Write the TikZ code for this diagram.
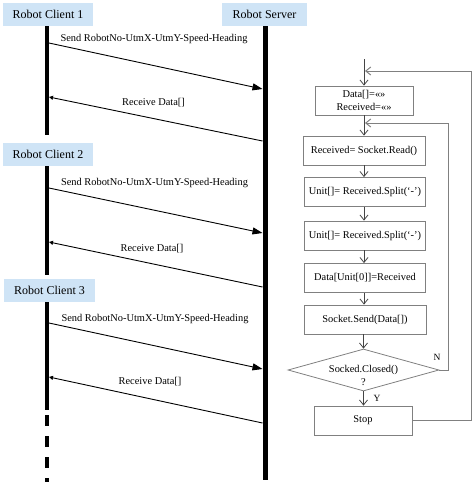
\documentclass[tikz,border=0pt]{standalone}
\usepackage{fontspec}
\setmainfont{Liberation Serif}
\usetikzlibrary{arrows.meta,shapes.geometric}
\definecolor{hdrblue}{HTML}{CFE4F6}
\definecolor{boxgray}{HTML}{808080}
\definecolor{linegray}{HTML}{444444}
\begin{document}
\begin{tikzpicture}[x=1pt,y=-1pt,
  hdr/.style={fill=hdrblue,draw=none,minimum height=23pt,inner sep=0pt,font=\fontsize{12}{14}\selectfont},
  msg/.style={font=\fontsize{10.4}{12}\selectfont,inner sep=0pt},
  life/.style={line width=4pt},
  sendarr/.style={line width=0.9pt,-{Triangle[length=10pt,width=7pt]}},
  recvarr/.style={line width=0.9pt,-{Triangle[length=4pt,width=4pt]}},
  fbox/.style={draw=boxgray,line width=0.8pt,minimum height=29pt,inner sep=0pt,align=center,font=\fontsize{10.4}{12.5}\selectfont},
  flow/.style={draw=linegray,line width=0.8pt,-{Straight Barb[length=5pt,width=8pt]}},
  loop/.style={draw=boxgray,line width=1pt,-{Straight Barb[length=5pt,width=8pt]}},
  lab/.style={font=\fontsize{9.5}{11}\selectfont,inner sep=0pt}
]
\useasboundingbox (0,0) rectangle (474,485);
% headers
\node[hdr,minimum width=90pt] (h1) at (48,14.5) {Robot Client 1};
\node[hdr,minimum width=85pt] (hs) at (264.5,14.5) {Robot Server};
\node[hdr,minimum width=90pt] (h2) at (48,154.5) {Robot Client 2};
\node[hdr,minimum width=91pt] (h3) at (49.5,290.5) {Robot Client 3};
% lifelines
\coordinate (c1t) at (47,26); \coordinate (c1b) at (47,135);
\coordinate (c2t) at (47,166); \coordinate (c2b) at (47,275);
\coordinate (c3t) at (47,302); \coordinate (c3b) at (47,410);
\coordinate (c3d) at (47,415); \coordinate (c3e) at (47,482);
\coordinate (st) at (265,26); \coordinate (sb) at (265,480);
\draw[life] (c1t) -- (c1b);
\draw[life] (c2t) -- (c2b);
\draw[life] (c3t) -- (c3b);
\draw[life,dash pattern=on 11pt off 10pt] (c3d) -- (c3e);
\draw[line width=5pt] (st) -- (sb);
% messages client 1
\coordinate (s1a) at (49,43); \coordinate (s1b) at (262.5,89);
\coordinate (r1a) at (262.5,141); \coordinate (r1b) at (49,97);
\draw[sendarr] (s1a) -- (s1b);
\draw[recvarr] (r1a) -- (r1b);
\node[msg] (m1) at (154,39) {Send RobotNo-UtmX-UtmY-Speed-Heading};
\node[msg] (n1) at (153.5,103) {Receive Data[]};
% client 2
\coordinate (s2a) at (49,188); \coordinate (s2b) at (262.5,233);
\coordinate (r2a) at (262.5,287); \coordinate (r2b) at (49,242);
\draw[sendarr] (s2a) -- (s2b);
\draw[recvarr] (r2a) -- (r2b);
\node[msg] (m2) at (154.5,183) {Send RobotNo-UtmX-UtmY-Speed-Heading};
\node[msg] (n2) at (152,249) {Receive Data[]};
% client 3
\coordinate (s3a) at (49,323); \coordinate (s3b) at (262.5,369);
\coordinate (r3a) at (262.5,423); \coordinate (r3b) at (49,377);
\draw[sendarr] (s3a) -- (s3b);
\draw[recvarr] (r3a) -- (r3b);
\node[msg] (m3) at (155,319) {Send RobotNo-UtmX-UtmY-Speed-Heading};
\node[msg] (n3) at (150,382) {Receive Data[]};
% flowchart
\node[fbox,minimum width=98pt] (b1) at (364,100.5) {Data[]=«»\\Received=«»};
\node[fbox,minimum width=122pt] (b2) at (364,150.5) {Received= Socket.Read()};
\node[fbox,minimum width=121pt] (b3) at (365,192) {Unit[]= Received.Split(‘-’)};
\node[fbox,minimum width=121pt] (b4) at (365,235.5) {Unit[]= Received.Split(‘-’)};
\node[fbox,minimum width=121pt] (b5) at (365,278) {Data[Unit[0]]=Received};
\node[fbox,minimum width=122pt] (b6) at (365,319.5) {Socket.Send(Data[])};
\node[diamond,draw=boxgray,line width=0.8pt,minimum width=151pt,minimum height=42pt,inner sep=0pt] (d) at (363.5,370) {};
\node[align=center,inner sep=0pt,font=\fontsize{10.4}{13}\selectfont] (dt) at (363.5,375) {Socked.Closed()\\?};
\node[fbox,minimum width=98pt] (stop) at (363,420.5) {Stop};
% flow arrows
\coordinate (entry) at (364,59);
\draw[flow] (entry) -- (b1.north);
\draw[flow] (b1.south) -- (b2.north -| b1.south);
\draw[flow] (b2.south) -- (b3.north -| b2.south);
\draw[flow] (b3.south -| b2.south) -- (b4.north -| b2.south);
\draw[flow] (b4.south -| b2.south) -- (b5.north -| b2.south);
\draw[flow] (b5.south -| b2.south) -- (b6.north -| b2.south);
\draw[flow] (b6.south -| d.north) -- (d.north);
\draw[flow] (d.south) -- (stop.north -| d.south);
% loops
\coordinate (o1) at (471,420.5); \coordinate (o2) at (471,71); \coordinate (o3) at (365,71);
\draw[loop] (stop.east) -- (o1) -- (o2) -- (o3);
\coordinate (i1) at (448,370); \coordinate (i2) at (448,123); \coordinate (i3) at (365,123);
\draw[loop] (d.east) -- (i1) -- (i2) -- (i3);
\node[lab] (nl) at (437,357) {N};
\node[lab] (yl) at (377,398) {Y};
\end{tikzpicture}
\end{document}
